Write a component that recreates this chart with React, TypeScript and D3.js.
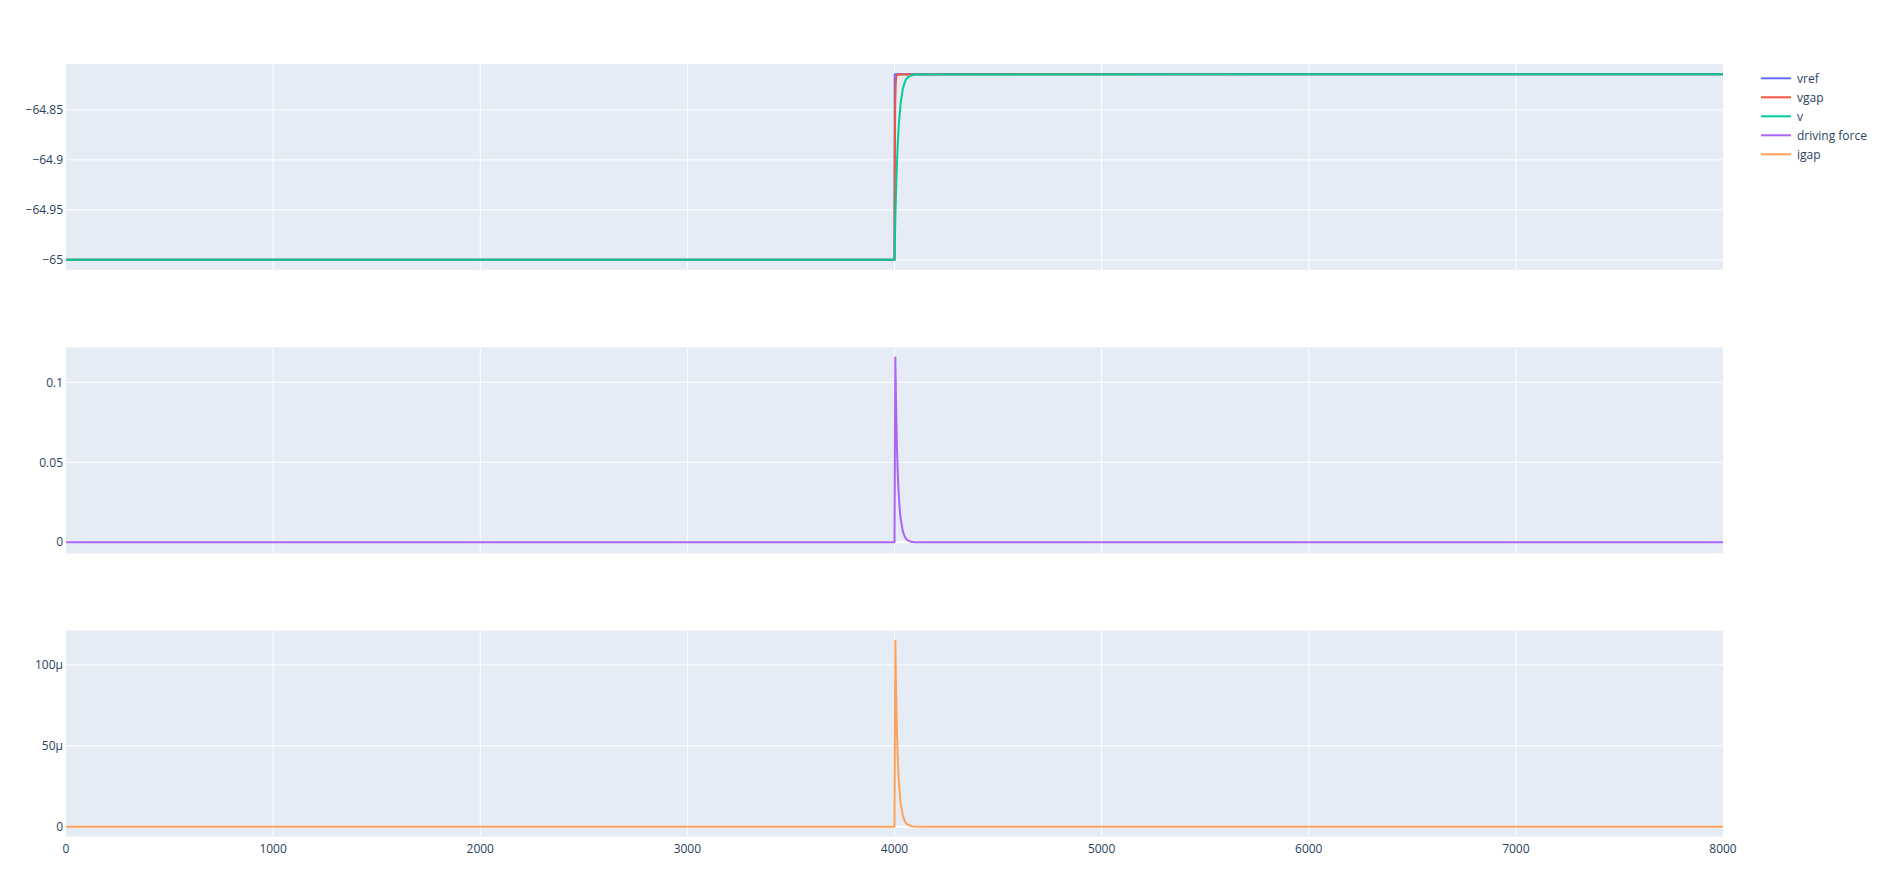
import React from "react";
import * as d3 from "d3";

// ---- data ----
const xTicks = [0, 1000, 2000, 3000, 4000, 5000, 6000, 7000, 8000];

const vrefT = [0, 4000, 4001, 8000];
const vrefV = [-65, -65, -64.8143, -64.8143];

const vgapT = [0, 4000, 4001, 4002, 4003, 4004, 4006, 4008, 4010, 4015, 8000];
const vgapV = [-65, -65, -64.93, -64.885, -64.857, -64.84, -64.824, -64.8178, -64.8156, -64.8145, -64.8143];

const vT = [0, 4000, 4005, 4010, 4015, 4020, 4030, 4040, 4050, 4060, 4080, 4100, 8000];
const vV = [-65, -65, -64.95, -64.914, -64.887, -64.867, -64.843, -64.829, -64.822, -64.818, -64.8156, -64.8146, -64.8143];

const dfT = [0, 4000, 4004, 4008, 4012, 4016, 4020, 4025, 4030, 4040, 4050, 4060, 4080, 4100, 4150, 8000];
const dfV = [0, 0, 0.1156, 0.083, 0.058, 0.042, 0.031, 0.021, 0.0145, 0.007, 0.0033, 0.0015, 0.0003, 0.0001, 0, 0];

const igT = [0, 4000, 4004, 4008, 4012, 4016, 4020, 4025, 4030, 4040, 4050, 4060, 4080, 4100, 4150, 8000];
const igV = [0, 0, 115e-6, 82.5e-6, 57.5e-6, 41.7e-6, 30.8e-6, 20.9e-6, 14.4e-6, 7e-6, 3.3e-6, 1.5e-6, 0.3e-6, 0.1e-6, 0, 0];

const y1Ticks = [-65, -64.95, -64.9, -64.85];
const y1Labels = ["\u221265", "\u221264.95", "\u221264.9", "\u221264.85"];
const y2Ticks = [0, 0.05, 0.1];
const y2Labels = ["0", "0.05", "0.1"];
const y3Ticks = [0, 50e-6, 100e-6];
const y3Labels = ["0", "50\u03bc", "100\u03bc"];

const legendNames = ["vref", "vgap", "v", "driving force", "igap"];
const colors = ["#636efa", "#EF553B", "#00cc96", "#ab63fa", "#FFA15A"];

// ---- layout ----
const W = 1881, H = 873;
const L = 66, R = 1723;
const FONT = "'Open Sans', sans-serif";
const TXT = "#2a3f5f";

const x = d3.scaleLinear().domain([0, 8000]).range([L, R]);

const panels = [
  { top: 64, bottom: 270, domain: [-65.0102, -64.8041], ticks: y1Ticks, labels: y1Labels, zero: false,
    series: [{ t: vrefT, v: vrefV, c: colors[0] }, { t: vgapT, v: vgapV, c: colors[1] }, { t: vT, v: vV, c: colors[2] }] },
  { top: 347.3, bottom: 553.3, domain: [-0.00688, 0.1219], ticks: y2Ticks, labels: y2Labels, zero: true,
    series: [{ t: dfT, v: dfV, c: colors[3] }] },
  { top: 630.7, bottom: 836.7, domain: [-6.2e-6, 121.2e-6], ticks: y3Ticks, labels: y3Labels, zero: true,
    series: [{ t: igT, v: igV, c: colors[4] }] },
];

function Panel({ p, idx, last }: any) {
  const y = d3.scaleLinear().domain(p.domain).range([p.bottom, p.top]);
  const clipId = `clip${idx}`;
  return (
    <g>
      <defs>
        <clipPath id={clipId}>
          <rect x={L} y={p.top} width={R - L} height={p.bottom - p.top} />
        </clipPath>
      </defs>
      <rect x={L} y={p.top} width={R - L} height={p.bottom - p.top} fill="#E5ECF6" />
      {xTicks.filter((t) => t > 0 && t < 8000).map((t) => (
        <line key={"gx" + t} x1={x(t)} x2={x(t)} y1={p.top} y2={p.bottom} stroke="#fff" strokeWidth={1} />
      ))}
      {p.ticks.map((t: number, i: number) => (
        <line key={"gy" + i} x1={L} x2={R} y1={y(t)} y2={y(t)} stroke="#fff"
          strokeWidth={p.zero && t === 0 ? 2 : 1} />
      ))}
      {p.ticks.map((t: number, i: number) => (
        <text key={"ty" + i} x={63} y={y(t)} dy="0.35em" textAnchor="end" fontFamily={FONT} fontSize={12} fill={TXT}>
          {p.labels[i]}
        </text>
      ))}
      <g clipPath={`url(#${clipId})`}>
        {p.series.map((s: any, i: number) => {
          const pts = s.t.map((t: number, j: number) => [t, s.v[j]]);
          const line = d3.line<any>().x((d) => x(d[0])).y((d) => y(d[1]));
          return <path key={i} d={line(pts) || ""} fill="none" stroke={s.c} strokeWidth={2} strokeLinejoin="round" />;
        })}
      </g>
      {last && xTicks.map((t) => (
        <text key={"tx" + t} x={x(t)} y={p.bottom + 8} dy="0.71em" textAnchor="middle" fontFamily={FONT} fontSize={12} fill={TXT}>
          {t}
        </text>
      ))}
    </g>
  );
}

export default function App() {
  return (
    <svg width={W} height={H} style={{ position: "absolute", left: 0, top: 0, background: "#fff" }}>
      <rect width={W} height={H} fill="#fff" />
      {panels.map((p, i) => (
        <Panel key={i} p={p} idx={i} last={i === panels.length - 1} />
      ))}
      <g>
        {legendNames.map((n, i) => (
          <g key={n} transform={`translate(0, ${78.3 + i * 19})`}>
            <line x1={1761} x2={1791} y1={0} y2={0} stroke={colors[i]} strokeWidth={2} />
            <text x={1797} y={0} dy="0.35em" fontFamily={FONT} fontSize={12} fill={TXT}>{n}</text>
          </g>
        ))}
      </g>
    </svg>
  );
}
